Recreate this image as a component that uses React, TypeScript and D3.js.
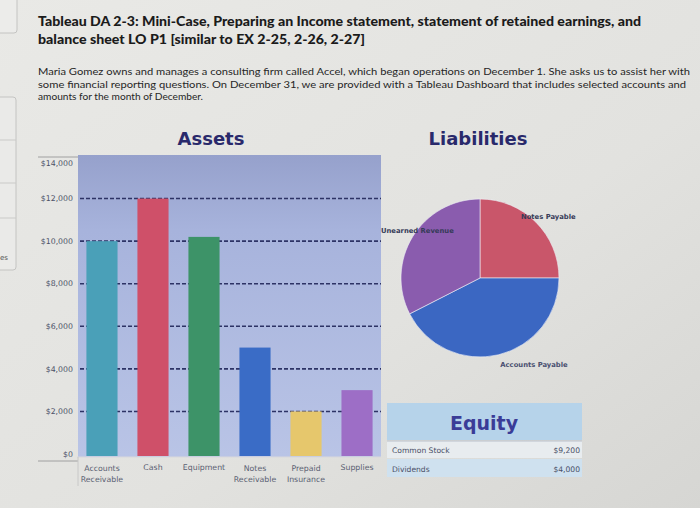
import React from "react";
import * as d3 from "d3";

const assetCategories = ["Accounts Receivable", "Cash", "Equipment", "Notes Receivable", "Prepaid Insurance", "Supplies"];
const assetValues = [10000, 12000, 10200, 5000, 2000, 3000];
const assetColors = ["#4aa0b8", "#cf5069", "#3d9368", "#3a6cc6", "#e6c76c", "#9d6ec6"];
const yTicks = [0, 2000, 4000, 6000, 8000, 10000, 12000, 14000];

const liabilityNames = ["Notes Payable", "Accounts Payable", "Unearned Revenue"];
const liabilityValues = [4000, 6800, 5200];
const liabilityColors = ["#c9566a", "#3b67c2", "#8a5cae"];

const equityNames = ["Common Stock", "Dividends"];
const equityValues = [9200, 4000];

const titleLines = [
  "Tableau DA 2-3: Mini-Case, Preparing an Income statement, statement of retained earnings, and",
  "balance sheet LO P1 [similar to EX 2-25, 2-26, 2-27]",
];
const bodyLines = [
  "Maria Gomez owns and manages a consulting firm called Accel, which began operations on December 1. She asks us to assist her with",
  "some financial reporting questions. On December 31, we are provided with a Tableau Dashboard that includes selected accounts and",
  "amounts for the month of December.",
];

const W = 700, H = 508;
const plot = { left: 78, right: 381, top: 155, bottom: 457 };

export default function App() {
  const y = d3.scaleLinear().domain([0, 14000]).range([454, 156]);
  const x = d3.scaleBand().domain(assetCategories).range([plot.left, plot.right]).paddingInner(0.39).paddingOuter(0.165);
  const fmt = (v: number) => "$" + d3.format(",")(v);

  const pie = d3.pie<number>().sort(null).value((d) => d)(liabilityValues);
  const arc = d3.arc<d3.PieArcDatum<number>>().innerRadius(0).outerRadius(79);
  const cx = 480, cy = 278;

  const sans = "'DejaVu Sans', Verdana, sans-serif";

  return (
    <svg width={W} height={H} style={{ position: "absolute", left: 0, top: 0 }} xmlns="http://www.w3.org/2000/svg">
      <defs>
        <linearGradient id="bg" x1="0" y1="0" x2="1" y2="1">
          <stop offset="0" stopColor="#e9e9e6" />
          <stop offset="0.6" stopColor="#e2e2df" />
          <stop offset="1" stopColor="#d6d6d3" />
        </linearGradient>
        <linearGradient id="plotbg" x1="0" y1="0" x2="0" y2="1">
          <stop offset="0" stopColor="#96a1cc" />
          <stop offset="0.25" stopColor="#a7b3dc" />
          <stop offset="1" stopColor="#b9c4e6" />
        </linearGradient>
      </defs>
      <rect x={0} y={0} width={W} height={H} fill="url(#bg)" />

      {/* left UI fragments */}
      <rect x={-6} y={-6} width={23} height={39} rx={3} fill="#ececea" stroke="#c4c4c2" />
      <rect x={-6} y={97} width={22} height={173} rx={3} fill="#eaeae8" stroke="#c4c4c2" />
      {[140, 183, 218].map((v) => (
        <line key={v} x1={-6} x2={16} y1={v} y2={v} stroke="#cacac8" />
      ))}
      <text x={0} y={260} fontFamily={sans} fontSize={7} fill="#555">es</text>

      {/* header */}
      {titleLines.map((t, i) => (
        <text key={i} x={38} y={26 + i * 18} fontFamily="Lato, 'Open Sans', sans-serif" fontWeight={900} fontSize={14} fill="#1b1b1b"
          textLength={i === 0 ? 603 : 327} lengthAdjust="spacingAndGlyphs">{t}</text>
      ))}
      {bodyLines.map((t, i) => (
        <text key={i} x={38} y={75 + i * 12.5} fontFamily="Lato, 'Open Sans', sans-serif" fontSize={9.8} fill="#262626"
          textLength={[652, 648, 165][i]} lengthAdjust="spacingAndGlyphs">{t}</text>
      ))}

      {/* Assets */}
      <text x={211} y={145} textAnchor="middle" fontFamily={sans} fontWeight={700} fontSize={18} fill="#29296b">Assets</text>
      <line x1={38} x2={plot.left} y1={157} y2={157} stroke="#a0a0a0" />
      <line x1={38} x2={plot.left} y1={461} y2={461} stroke="#a0a0a0" />
      <rect x={plot.left} y={plot.top} width={plot.right - plot.left} height={plot.bottom - plot.top} fill="url(#plotbg)" />
      {yTicks.filter((v) => v > 0 && v < 14000).map((v) => (
        <line key={v} x1={plot.left + 2} x2={plot.right} y1={y(v)} y2={y(v)} stroke="#2d3365" strokeWidth={1.6} strokeDasharray="4 2" />
      ))}
      {yTicks.map((v) => (
        <text key={v} x={73} y={Math.max(y(v), 163) + 2.7} textAnchor="end" fontFamily={sans} fontSize={7.8} fill="#4d5268">{fmt(v)}</text>
      ))}
      {assetCategories.map((c, i) => (
        <rect key={c} x={x(c)!} y={y(assetValues[i])} width={x.bandwidth()} height={y(0) - y(assetValues[i]) + 2} fill={assetColors[i]} />
      ))}
      <line x1={plot.left - 1} x2={plot.right} y1={plot.bottom} y2={plot.bottom} stroke="#d8d8dc" />
      <line x1={plot.left} x2={plot.left} y1={plot.bottom} y2={486} stroke="#c8c8c8" />
      {assetCategories.map((c) => {
        const parts = c.split(" ");
        const cxp = x(c)! + x.bandwidth() / 2;
        return (
          <text key={c} x={cxp} y={parts.length > 1 ? 471 : 470} textAnchor="middle" fontFamily={sans} fontSize={7.8} fill="#5a5f72">
            {parts.map((p, j) => (
              <tspan key={j} x={cxp} dy={j === 0 ? 0 : 11}>{p}</tspan>
            ))}
          </text>
        );
      })}

      {/* Liabilities */}
      <text x={478} y={145} textAnchor="middle" fontFamily={sans} fontWeight={700} fontSize={18} fill="#29296b">Liabilities</text>
      <g transform={`translate(${cx},${cy})`}>
        {pie.map((d, i) => (
          <path key={i} d={arc(d)!} fill={liabilityColors[i]} stroke="#eef0f6" strokeWidth={0.6} />
        ))}
      </g>
      <text x={521} y={219} fontFamily={sans} fontWeight={700} fontSize={6.8} fill="#363b58">{liabilityNames[0]}</text>
      <text x={534} y={367} textAnchor="middle" fontFamily={sans} fontWeight={700} fontSize={6.8} fill="#4a5070">{liabilityNames[1]}</text>
      <text x={381} y={233} fontFamily={sans} fontWeight={700} fontSize={6.8} fill="#363b58">{liabilityNames[2]}</text>

      {/* Equity */}
      <rect x={387} y={403} width={195} height={37} fill="#b6d3ea" />
      <text x={484} y={430} textAnchor="middle" fontFamily={sans} fontWeight={700} fontSize={19} fill="#3a3c97">Equity</text>
      <rect x={387} y={441} width={195} height={17} fill="#e8ecef" />
      <line x1={387} x2={582} y1={441} y2={441} stroke="#b0b8c4" strokeWidth={0.8} />
      <rect x={387} y={459} width={195} height={18} fill="#cfe1ef" />
      {equityNames.map((n, i) => (
        <g key={n}>
          <text x={392} y={453 + i * 18.5} fontFamily={sans} fontSize={7.6} fill="#4a5068">{n}</text>
          <text x={580} y={453 + i * 18.5} textAnchor="end" fontFamily={sans} fontSize={7.6} fill="#4a5068">{fmt(equityValues[i])}</text>
        </g>
      ))}
    </svg>
  );
}
